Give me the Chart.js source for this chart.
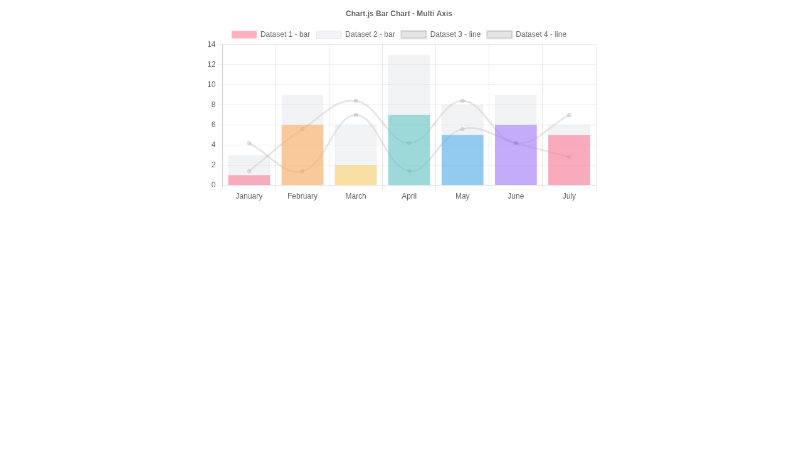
<!DOCTYPE html>
<html>
<head>
<meta charset="utf-8">
<script src="https://cdn.jsdelivr.net/npm/chart.js@4"></script>
<style>
  html, body { margin: 0; padding: 0; background: #fff; }
  #wrap {
    position: absolute;
    left: 199px;
    top: 2.5px;
    width: 638px;
    height: 319px;
    transform: scale(0.627);
    transform-origin: 0 0;
  }
</style>
</head>
<body>
<div id="wrap"><canvas id="myChart"></canvas></div>
<script>
  "use strict";
  const labels = ["January", "February", "March", "April", "May", "June", "July"];
  const bar1Values = [1, 6, 2, 7, 5, 6, 5];
  const bar2Values = [3, 9, 6, 13, 8, 9, 6];
  const line3Values = [1, 4, 6, 3, 6, 3, 5];
  const line4Values = [3, 1, 5, 1, 4, 3, 2];

  const bar1Colors = [
    "rgba(255, 99, 132, 0.5)",
    "rgba(255, 159, 64, 0.5)",
    "rgba(255, 205, 86, 0.5)",
    "rgba(75, 192, 192, 0.5)",
    "rgba(54, 162, 235, 0.5)",
    "rgba(153, 102, 255, 0.5)",
    "rgba(255, 99, 132, 0.5)",
  ];

  Chart.defaults.font.family = "'Liberation Sans', Arial, sans-serif";

  var ctx = document.getElementById("myChart").getContext("2d");
  var chart = new Chart(ctx, {
    type: "bar",
    data: {
      labels: labels,
      datasets: [
        {
          label: "Dataset 1 - bar",
          data: bar1Values,
          backgroundColor: bar1Colors,
          grouped: false,
          barPercentage: 0.98,
          yAxisID: "y",
        },
        {
          label: "Dataset 2 - bar",
          data: bar2Values,
          backgroundColor: "rgba(201, 206, 214, 0.25)",
          borderColor: "rgba(201, 206, 214, 0.35)",
          borderWidth: 1,
          grouped: false,
          barPercentage: 0.98,
          yAxisID: "y",
        },
        {
          label: "Dataset 3 - line",
          type: "line",
          data: line3Values,
          tension: 0.4,
          yAxisID: "y1",
        },
        {
          label: "Dataset 4 - line",
          type: "line",
          data: line4Values,
          tension: 0.4,
          yAxisID: "y1",
        },
      ],
    },
    options: {
      responsive: true,
      maintainAspectRatio: false,
      animation: false,
      plugins: {
        title: {
          display: true,
          text: "Chart.js Bar Chart - Multi Axis",
        },
      },
      scales: {
        y: {
          type: "linear",
          position: "left",
          min: 0,
          max: 14,
          ticks: { stepSize: 2 },
          afterFit: (axis) => {
            axis.width += 10;
          },
        },
        y1: {
          type: "linear",
          display: false,
          min: 0,
          max: 10,
        },
      },
    },
  });
</script>
</body>
</html>
